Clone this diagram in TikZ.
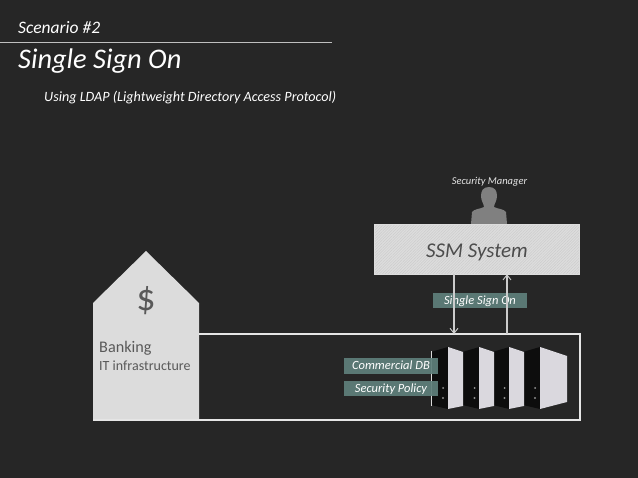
\documentclass[tikz,border=0pt]{standalone}
\usepackage{fontspec}
\setmainfont{Carlito}
\usetikzlibrary{patterns.meta,arrows.meta}
\definecolor{slidebg}{HTML}{262626}
\definecolor{housefill}{HTML}{DCDCDC}
\definecolor{ssmfill}{HTML}{DDDDDD}
\definecolor{tagfill}{HTML}{5F7F7B}
\definecolor{sidefill}{HTML}{DAD8DE}
\tikzset{
	title/.style={right,inner sep=0pt,text=white,font=\itshape},
	tag/.style={fill=tagfill,fill opacity=.92,text opacity=1,text=white,font=\itshape\fontsize{12.5}{14}\selectfont,minimum width=94pt,minimum height=15.5pt,inner sep=0pt,text height=11pt,text depth=3pt},
	link/.style={draw=white!80!black,line width=1.2pt,-{Straight Barb[length=5pt,width=8pt,line width=.9pt]}},
}
\begin{document}
	\begin{tikzpicture}[x=1pt,y=-1pt]
		\useasboundingbox[fill=slidebg](0,0)rectangle(638,478);
		\node[title,font=\itshape\fontsize{17.5}{20}\selectfont] (scenario) at (18,28){Scenario \#2};
		\draw[white!75!black,line width=.8pt](0,42)--(332,42);
		\node[title,font=\itshape\fontsize{28.4}{30}\selectfont] (heading) at (18,61){Single Sign On};
		\node[title,font=\itshape\fontsize{14.15}{18}\selectfont] (subtitle) at (44,97.5){Using LDAP (Lightweight Directory Access Protocol)};
		\fill[housefill](93,420)--(93,303)--(146,251)--(199,303)--(199,420)--cycle;
		\node[text=black!65,font=\fontsize{38}{40}\selectfont] (dollar) at (146,301){\$};
		\node[right,inner sep=0pt,text=black!65,font=\fontsize{16.2}{20}\selectfont] (banking) at (99,348.5){Banking};
		\node[right,inner sep=0pt,text=black!65,font=\fontsize{14}{17}\selectfont] (infra) at (99,366){IT infrastructure};
		\draw[white!90!black,line width=1.8pt](199,334)--(580,334)--(580,420)--(93,420);
		\coordinate (frametop) at (454,334);
		\coordinate (framebase) at (507,334);
		\fill[black!50](489,187)..controls(483,187)and(481,191)..(481,196)..controls(481,201)and(484,204)..(484,207)..controls(480,209)and(474,209)..(472,212)--(471,224)--(507,224)--(506,212)..controls(504,209)and(498,209)..(494,207)..controls(494,204)and(497,201)..(497,196)..controls(497,191)and(495,187)..(489,187)--cycle;
		\node[text=white!90!black,font=\itshape\fontsize{10.5}{12}\selectfont] (manager) at (489.5,182){Security Manager};
		\node[minimum width=205pt,minimum height=49pt,inner sep=0pt,fill=ssmfill] (ssm) at (477,249.5){};
		\fill[pattern={Lines[angle=45,distance=2pt,line width=.5pt]},pattern color=black!20](ssm.south west)rectangle(ssm.north east);
		\draw[ssmfill,line width=.8pt](ssm.south west)rectangle(ssm.north east);
		\node[text=black!70,font=\itshape\fontsize{21}{24}\selectfont] (ssmtext) at (477,252){SSM System};
		\foreach \px in {431,462.5,492.5,523}{
			\fill[black!95](\px,352)--(\px+17,347)--(\px+17,409)--(\px,405)--cycle;
			\fill[black!45](\px+12,398)circle(1.2);
			\fill[black!40](\px+12,388)circle(1);
		}
		\foreach \px in {448,479,509}{
			\fill[sidefill](\px,347)--(\px+15,352)--(\px+15,406)--(\px,409)--cycle;
		}
		\fill[sidefill](540,347)--(567,356)--(567,402)--(540,409)--cycle;
		\draw[white!85!black,line width=.6pt](431,351)--(431,406);
		\node[tag] (commercial) at (391,366){Commercial DB};
		\node[tag] (policy) at (391,388.5){Security Policy};
		\node[tag] (signon) at (480,300.5){Single Sign On};
		\draw[link](ssm.south -| frametop)--(frametop);
		\draw[link](framebase)--(ssm.south -| framebase);
	\end{tikzpicture}
\end{document}
